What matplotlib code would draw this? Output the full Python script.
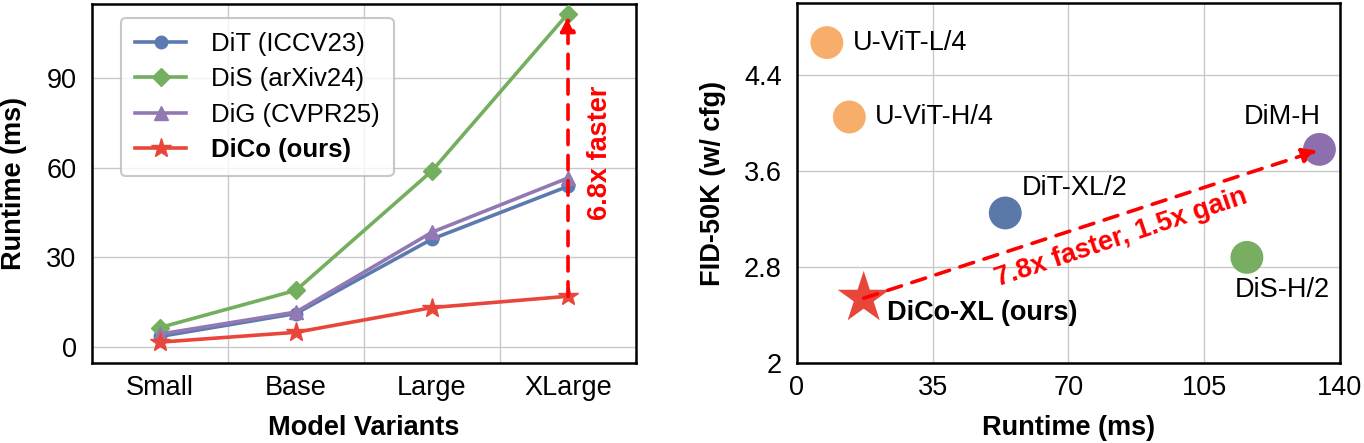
import matplotlib
matplotlib.use("Agg")
import matplotlib.pyplot as plt
import numpy as np

plt.rcParams['font.family'] = ['Liberation Sans', 'DejaVu Sans']

# ---- Left panel data ----
variants = ["Small", "Base", "Large", "XLarge"]
dit_runtime = [3.4, 11.1, 36.1, 53.8]
dis_runtime = [6.4, 18.9, 59.0, 111.8]
dig_runtime = [4.2, 11.6, 38.4, 56.6]
dico_runtime = [1.5, 4.8, 13.1, 16.9]
left_yticks = [0, 30, 60, 90]

# ---- Right panel data ----
models = ["U-ViT-L/4", "U-ViT-H/4", "DiM-H", "DiT-XL/2", "DiS-H/2"]
model_runtime = [7.7, 13.5, 134.7, 53.7, 116.0]
model_fid = [4.67, 4.05, 3.78, 3.25, 2.88]
model_colors = ["#f8ae6b", "#f8ae6b", "#8e6fae", "#5a79a9", "#78ae62"]
dico_xl_runtime = 17.2
dico_xl_fid = 2.54
right_xticks = [0, 35, 70, 105, 140]
right_yticks = [2, 2.8, 3.6, 4.4]

C_BLUE = "#5b7bb0"
C_GREEN = "#74ae5f"
C_PURPLE = "#9279b4"
C_RED = "#e8463a"
C_ARROW = "#ff0000"
GRID = "#c8c8c8"
FS = 19.5

fig = plt.figure(figsize=(13.64, 4.43), dpi=100)
ax1 = fig.add_axes([0.0674, 0.1806, 0.3989, 0.8104])
ax2 = fig.add_axes([0.5843, 0.1806, 0.3981, 0.8127])

# ---------------- Left ----------------
x = np.arange(len(variants))
lw = 2.6
ax1.plot(x, dit_runtime, color=C_BLUE, marker='o', ms=9, lw=lw, label='DiT (ICCV23)', zorder=3)
ax1.plot(x, dis_runtime, color=C_GREEN, marker='D', ms=9, lw=lw, label='DiS (arXiv24)', zorder=3)
ax1.plot(x, dig_runtime, color=C_PURPLE, marker='^', ms=10, lw=lw, label='DiG (CVPR25)', zorder=3)
ax1.plot(x, dico_runtime, color=C_RED, marker='*', ms=15, lw=lw, label='DiCo (ours)', zorder=4)

ax1.set_xlim(-0.5, 3.5)
ax1.set_ylim(-5.5, 115)
ax1.set_xticks(x)
ax1.set_xticklabels(variants)
ax1.set_xticks([0.5, 1.5, 2.5], minor=True)
ax1.set_yticks(left_yticks)
ax1.grid(True, which='minor', axis='x', color=GRID, lw=1.0, zorder=0)
ax1.grid(True, which='major', axis='y', color=GRID, lw=1.0, zorder=0)
ax1.tick_params(which='both', length=0, labelsize=FS)
ax1.tick_params(axis='y', pad=11)
ax1.tick_params(axis='x', pad=9)
ax1.set_xlabel("Model Variants", fontsize=FS, fontweight='bold', labelpad=9.5)
ax1.set_ylabel("Runtime (ms)", fontsize=FS, fontweight='bold', labelpad=14)
ax1.set_axisbelow(True)

ax1.annotate("", xy=(3, dis_runtime[3]), xytext=(3, dico_runtime[3]),
             arrowprops=dict(arrowstyle='-|>', color=C_ARROW, lw=2.6,
                             linestyle=(0, (4, 3)), mutation_scale=22,
                             shrinkA=0, shrinkB=2), zorder=5)
ax1.text(3.235, 65, "6.8x faster", rotation=90, color=C_ARROW, fontsize=19.5,
         fontweight='bold', ha='center', va='center')

leg = ax1.legend(loc='upper left', bbox_to_anchor=(0.053, 0.961), borderaxespad=0,
                 fontsize=18.5, frameon=True, fancybox=True, edgecolor='#bbbbbb',
                 handlelength=2.0, labelspacing=0.44, borderpad=0.55, handletextpad=0.95)
leg.get_frame().set_linewidth(1.5)
for t in leg.get_texts():
    if t.get_text() == 'DiCo (ours)':
        t.set_fontweight('bold')

# ---------------- Right ----------------
ax2.scatter(model_runtime, model_fid, s=560, c=model_colors, edgecolors='none', zorder=3)
ax2.scatter([dico_xl_runtime], [dico_xl_fid], s=1550, marker='*', c=C_RED,
            edgecolors='none', zorder=4)

ax2.set_xlim(0, 140)
ax2.set_ylim(2, 5.0)
ax2.set_xticks(right_xticks)
ax2.set_yticks(right_yticks)
ax2.set_yticklabels(["2", "2.8", "3.6", "4.4"])
ax2.grid(True, color=GRID, lw=1.0, zorder=0)
ax2.set_axisbelow(True)
ax2.tick_params(length=0, labelsize=FS)
ax2.tick_params(axis='y', pad=11)
ax2.tick_params(axis='x', pad=9)
ax2.set_xlabel("Runtime (ms)", fontsize=FS, fontweight='bold', labelpad=9.5)
ax2.set_ylabel("FID-50K (w/ cfg)", fontsize=FS, fontweight='bold', labelpad=13)

label_pos = {
    "U-ViT-L/4": (14.3, 4.67, 'left'),
    "U-ViT-H/4": (20.0, 4.05, 'left'),
    "DiM-H": (125.0, 4.05, 'center'),
    "DiT-XL/2": (71.5, 3.46, 'center'),
    "DiS-H/2": (125.0, 2.61, 'center'),
}
for name in models:
    lx, ly, ha = label_pos[name]
    ax2.text(lx, ly, name, fontsize=FS, ha=ha, va='center')
ax2.text(23.2, 2.42, "DiCo-XL (ours)", fontsize=FS, fontweight='bold', ha='left', va='center')

ax2.annotate("", xy=(model_runtime[2] - 0.5, model_fid[2] - 0.01),
             xytext=(dico_xl_runtime, dico_xl_fid),
             arrowprops=dict(arrowstyle='-|>', color=C_ARROW, lw=2.6,
                             linestyle=(0, (4, 3)), mutation_scale=22,
                             shrinkA=0, shrinkB=0), zorder=5)
ax2.text(83.5, 3.04, "7.8x faster, 1.5x gain", rotation=18.5, color=C_ARROW,
         fontsize=19.5, fontweight='bold', ha='center', va='center',
         rotation_mode='anchor')

for ax in (ax1, ax2):
    for sp in ax.spines.values():
        sp.set_color('black')
        sp.set_linewidth(1.8)

fig.savefig("out.png", dpi=100)
